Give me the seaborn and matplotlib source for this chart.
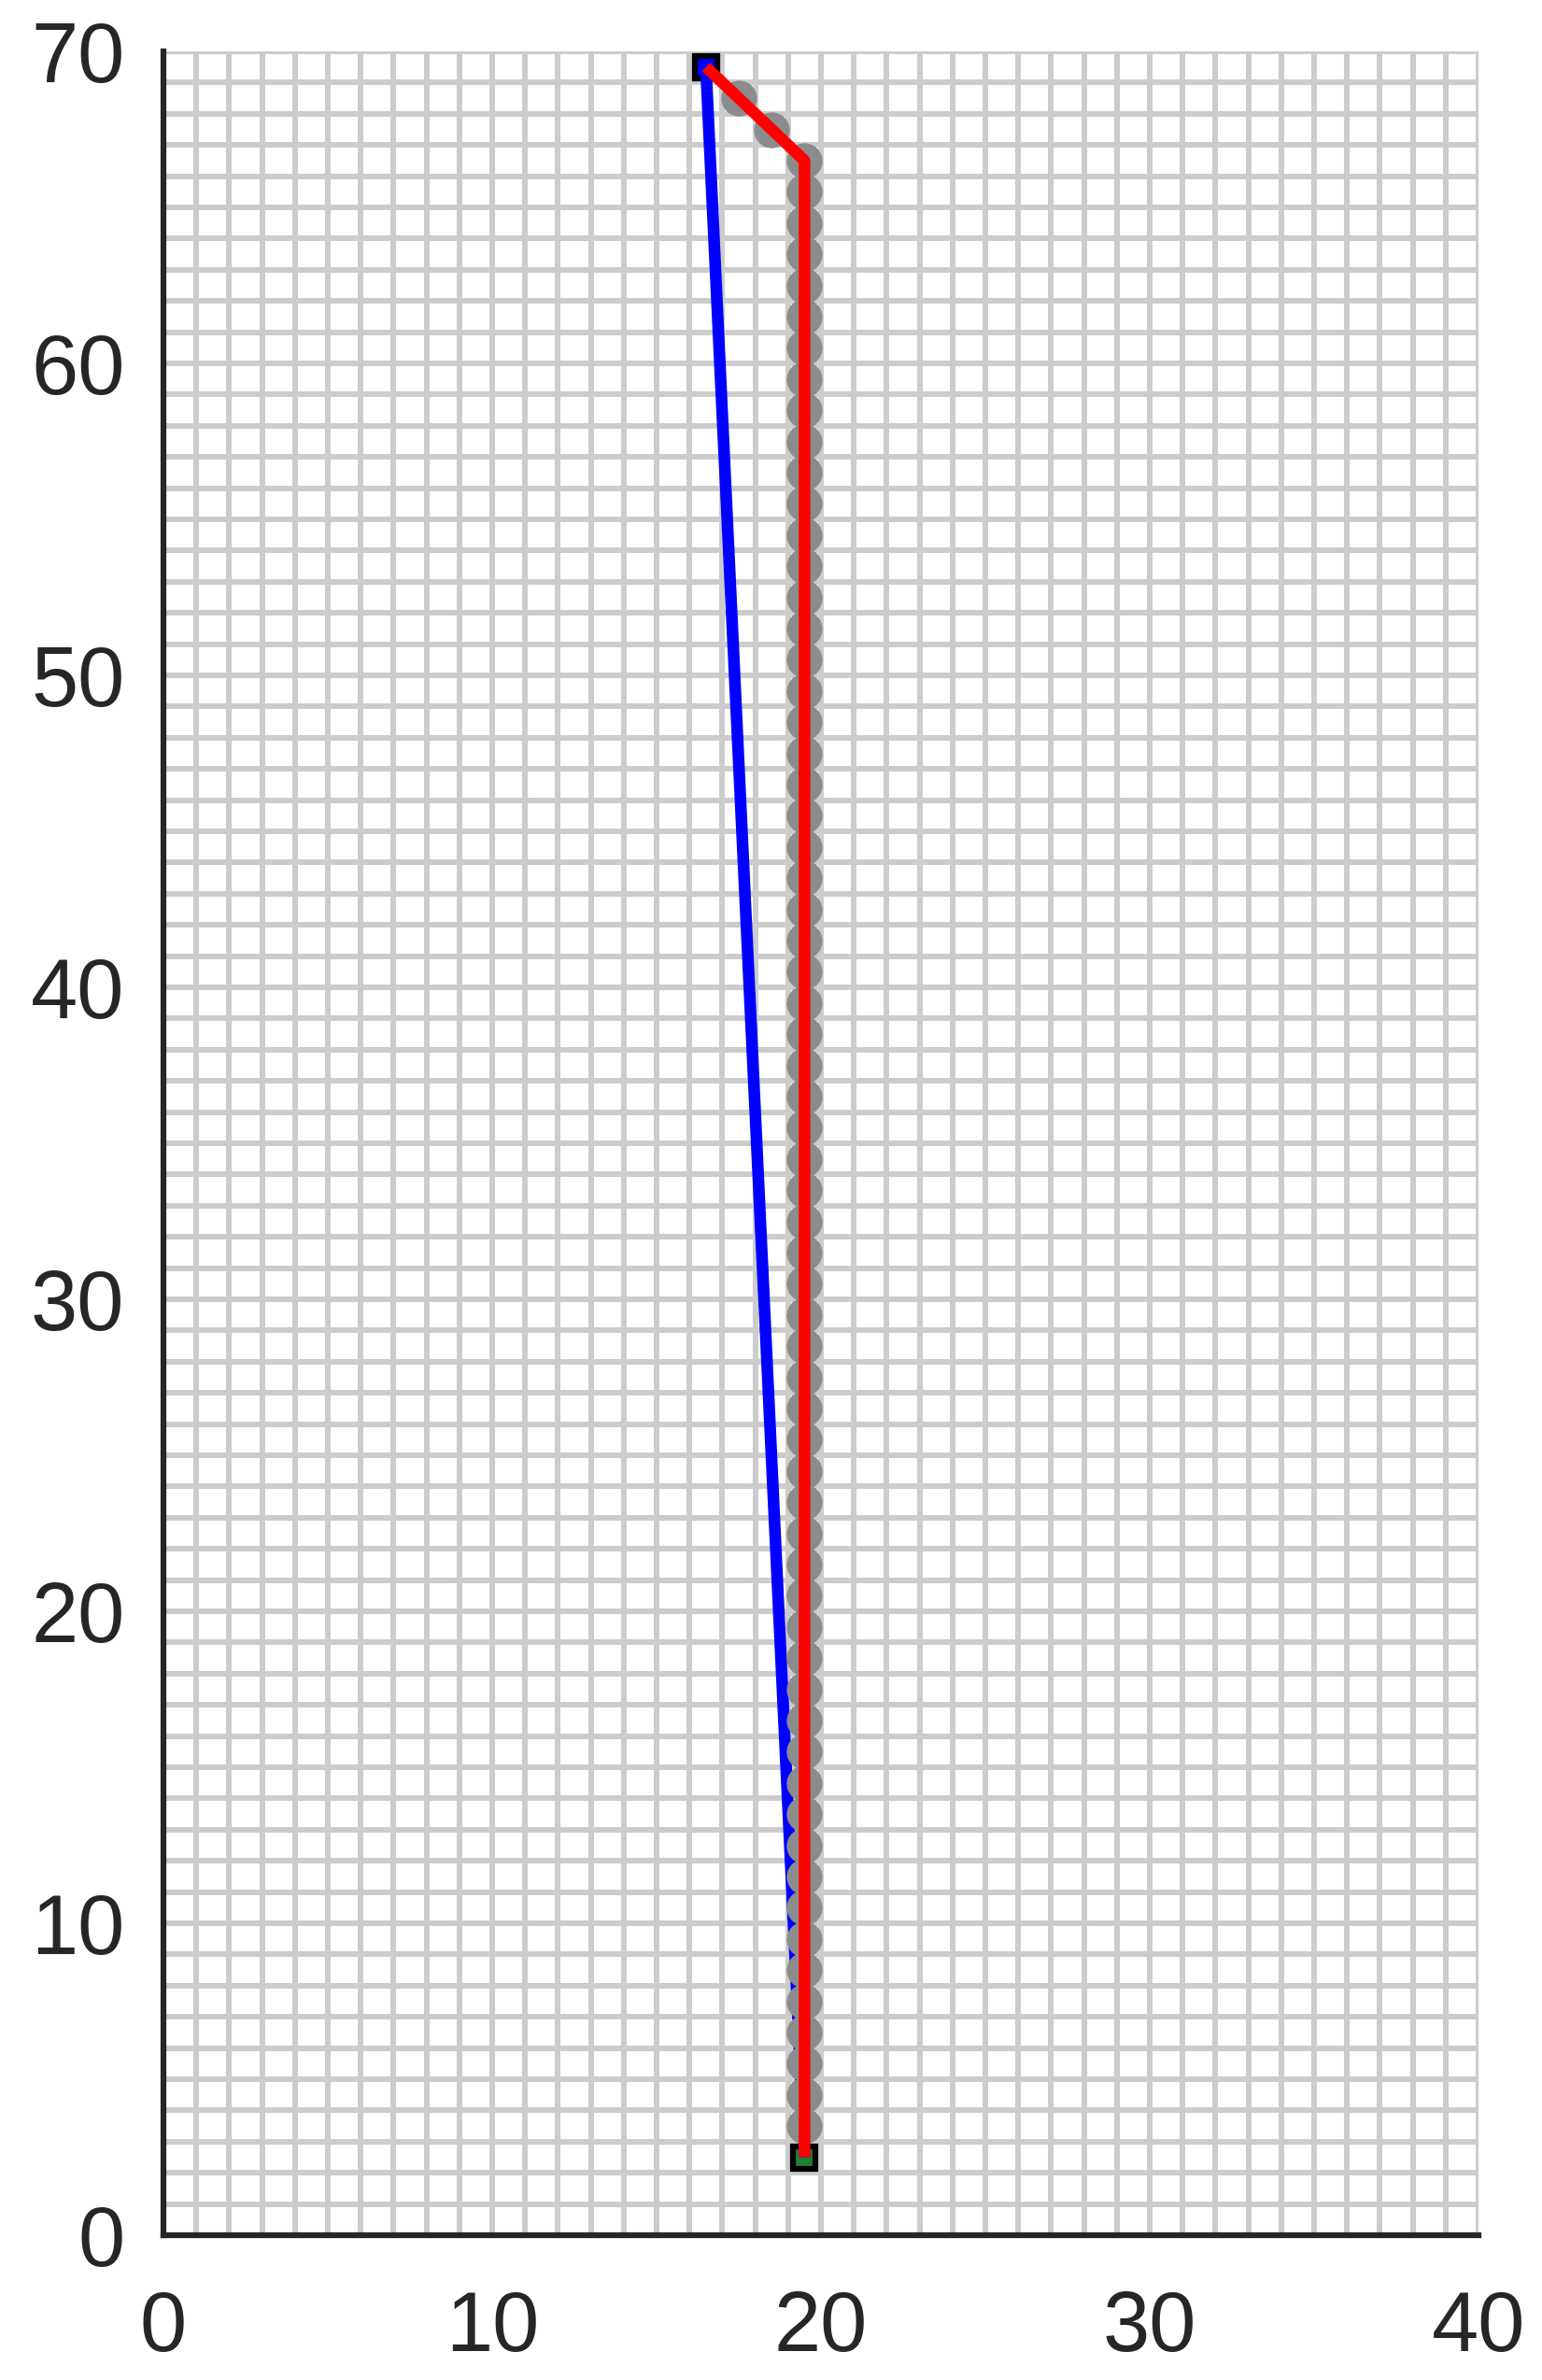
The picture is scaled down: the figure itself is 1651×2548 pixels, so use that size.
import matplotlib
matplotlib.use("Agg")
import matplotlib.pyplot as plt
import pandas as pd
import seaborn as sns
from matplotlib.ticker import MultipleLocator

sns.set_theme(style="white")
plt.rcParams["font.family"] = ["Liberation Sans", "DejaVu Sans"]

# start / goal cells
start_x, start_y = 16.5, 69.5
goal_x, goal_y = 19.5, 2.5

# visited cells (grey dots) along the found path
visited_x = [17.5, 18.5, 19.5, 19.5, 19.5, 19.5, 19.5, 19.5, 19.5, 19.5, 19.5, 19.5,
             19.5, 19.5, 19.5, 19.5, 19.5, 19.5, 19.5, 19.5, 19.5, 19.5, 19.5, 19.5,
             19.5, 19.5, 19.5, 19.5, 19.5, 19.5, 19.5, 19.5, 19.5, 19.5, 19.5, 19.5,
             19.5, 19.5, 19.5, 19.5, 19.5, 19.5, 19.5, 19.5, 19.5, 19.5, 19.5, 19.5,
             19.5, 19.5, 19.5, 19.5, 19.5, 19.5, 19.5, 19.5, 19.5, 19.5, 19.5, 19.5,
             19.5, 19.5, 19.5, 19.5, 19.5, 19.5]
visited_y = [68.5, 67.5, 66.5, 65.5, 64.5, 63.5, 62.5, 61.5, 60.5, 59.5, 58.5, 57.5,
             56.5, 55.5, 54.5, 53.5, 52.5, 51.5, 50.5, 49.5, 48.5, 47.5, 46.5, 45.5,
             44.5, 43.5, 42.5, 41.5, 40.5, 39.5, 38.5, 37.5, 36.5, 35.5, 34.5, 33.5,
             32.5, 31.5, 30.5, 29.5, 28.5, 27.5, 26.5, 25.5, 24.5, 23.5, 22.5, 21.5,
             20.5, 19.5, 18.5, 17.5, 16.5, 15.5, 14.5, 13.5, 12.5, 11.5, 10.5, 9.5,
             8.5, 7.5, 6.5, 5.5, 4.5, 3.5]

# grid path (red) and straight line (blue)
path_x = [start_x] + visited_x + [goal_x]
path_y = [start_y] + visited_y + [goal_y]
line_x = [start_x, goal_x]
line_y = [start_y, goal_y]

fig = plt.figure(figsize=(16.51, 25.48), dpi=100)
ax = fig.add_axes([0.106, 0.0608, 0.8528, 0.9176])

ax.plot([start_x], [start_y], "s", ms=17, mfc="blue", mec="black", mew=4.5, zorder=3)
ax.plot([goal_x], [goal_y], "s", ms=17, mfc="#1e7f36", mec="black", mew=4.5, zorder=3)

sns.lineplot(x=line_x, y=line_y, sort=False, estimator=None, color="blue",
             lw=9, solid_capstyle="butt", ax=ax, zorder=4)
sns.scatterplot(x=visited_x, y=visited_y, color="#8c8c8c", s=760, linewidth=0,
                ax=ax, zorder=5)
sns.lineplot(x=path_x, y=path_y, sort=False, estimator=None, color="red",
             lw=9, solid_capstyle="butt", ax=ax, zorder=6)

ax.set_xlim(0, 40)
ax.set_ylim(0, 70)
ax.xaxis.set_major_locator(MultipleLocator(10))
ax.yaxis.set_major_locator(MultipleLocator(10))
ax.xaxis.set_minor_locator(MultipleLocator(1))
ax.yaxis.set_minor_locator(MultipleLocator(1))
ax.grid(which="both", color="#cccccc", lw=4.3)
ax.set_axisbelow(True)

ax.tick_params(axis="both", which="major", length=0,
               labelsize=65, labelcolor="#262626")
ax.tick_params(axis="y", which="major", pad=30)
ax.tick_params(axis="x", which="major", pad=42)
ax.tick_params(which="minor", length=0)

sns.despine(ax=ax)
for side in ["left", "bottom"]:
    ax.spines[side].set_color("#262626")
    ax.spines[side].set_linewidth(4.5)

fig.savefig("out.png", dpi=100)
